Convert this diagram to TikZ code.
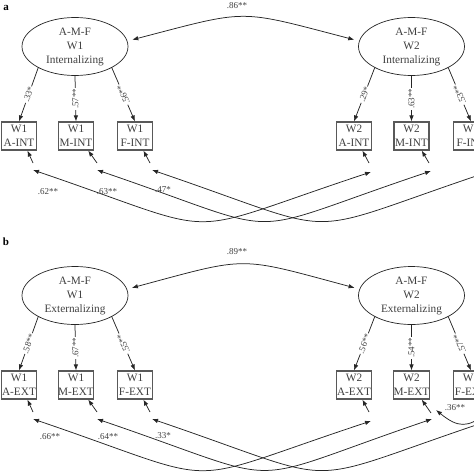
\documentclass[tikz,border=0pt]{standalone}
\usepackage{fontspec}
\setmainfont{Liberation Serif}
\usetikzlibrary{arrows.meta,shapes.geometric}
\begin{document}
\begin{tikzpicture}[x=1pt,y=-1pt,
  lat/.style={draw=black!85, ellipse, line width=0.7pt, minimum width=106pt, minimum height=58pt, inner sep=0pt, align=center, font=\fontsize{11.3}{14}\selectfont, text=black!75},
  obs/.style={draw=black!65, line width=1.1pt, rectangle, minimum width=35pt, minimum height=28pt, inner sep=0pt, align=center, font=\fontsize{11.3}{13.5}\selectfont, text=black!75},
  pth/.style={line width=0.75pt, draw=black!85, -{Latex[length=6pt,width=4.5pt]}},
  cov/.style={line width=0.75pt, draw=black!85, {Latex[length=6pt,width=4.5pt]}-{Latex[length=6pt,width=4.5pt]}},
  lab/.style={fill=white, inner sep=0.8pt, font=\fontsize{9}{10}\selectfont, text=black!75},
  coef/.style={font=\fontsize{9}{10}\selectfont, text=black!75, inner sep=0pt},
  pan/.style={font=\bfseries\fontsize{11}{12}\selectfont, inner sep=0pt}
]
\useasboundingbox (0,0) rectangle (474,474);
\clip (0,0) rectangle (474,474);

% ---------------- Panel a ----------------
\node[pan] (pa) at (6,8) {a};
\node[coef] (ta) at (237,6) {.86**};
\node[lat] (l1a) at (75,46.5) {A-M-F\\W1\\Internalizing};
\node[lat] (l2a) at (411.5,46.5) {A-M-F\\W2\\Internalizing};
\node[obs] (a1A) at (19,136) {W1\\A-INT};
\node[obs] (a1M) at (76,136) {W1\\M-INT};
\node[obs] (a1F) at (135,136) {W1\\F-INT};
\node[obs] (a2A) at (354,136) {W2\\A-INT};
\node[obs] (a2M) at (411.5,136) {W2\\M-INT};
\node[obs] (a2F) at (471,136) {W2\\F-INT};

\draw[cov, shorten <=5pt, shorten >=5pt] (l1a.6) .. controls +(123,-32) and +(-123,-32) .. (l2a.174);

\draw[pth] (l1a.210) -- node[lab,rotate=70]{.33*} (a1A.north);
\draw[pth] (l1a.270) -- node[lab,rotate=90]{.57**} (a1M.north);
\draw[pth] (l1a.330) -- node[lab,rotate=113]{.56**} (a1F.north);
\draw[pth] (l2a.210) -- node[lab,rotate=69]{.29*} (a2A.north);
\draw[pth] (l2a.270) -- node[lab,rotate=90]{.63**} (a2M.north);
\draw[pth] (l2a.330) -- node[lab,rotate=113]{.53**} (a2F.north);

\coordinate (e1Aa) at (33,163);
\coordinate (e1Ma) at (97,163);
\coordinate (e1Fa) at (150,163);
\coordinate (e2Aa) at (369,163);
\coordinate (e2Ma) at (429,163);
\coordinate (e2Fa) at (489,163);
\draw[pth] (e1Aa) -- (a1A.-60);
\draw[pth] (e1Ma) -- (a1M.-50);
\draw[pth] (e1Fa) -- (a1F.-60);
\draw[pth] (e2Aa) -- (a2A.-60);
\draw[pth] (e2Ma) -- (a2M.-55);
\draw[pth] (e2Fa) -- (a2F.-60);

\coordinate (k1Aa) at (33,170);
\coordinate (k1Ma) at (97,170);
\coordinate (k1Fa) at (152,170);
\coordinate (k2Aa) at (371,172);
\coordinate (k2Ma) at (431,171);
\coordinate (k2Fa) at (491,171);
\draw[cov] (k1Aa) .. controls +(200,68) and +(-200,66) .. (k2Aa);
\draw[cov] (k1Ma) .. controls +(200,68) and +(-200,67) .. (k2Ma);
\draw[cov] (k1Fa) .. controls +(200,68) and +(-200,67) .. (k2Fa);
\node[coef] (ca1) at (48,192) {.62**};
\node[coef] (ca2) at (107,192) {.63**};
\node[coef] (ca3) at (163,190) {.47*};

% ---------------- Panel b ----------------
\node[pan] (pb) at (6,242) {b};
\node[coef] (tb) at (237,252) {.89**};
\node[lat] (l1b) at (75,295.5) {A-M-F\\W1\\Externalizing};
\node[lat] (l2b) at (411.5,295.5) {A-M-F\\W2\\Externalizing};
\node[obs] (b1A) at (19,385) {W1\\A-EXT};
\node[obs] (b1M) at (76,385) {W1\\M-EXT};
\node[obs] (b1F) at (135,385) {W1\\F-EXT};
\node[obs] (b2A) at (354,385) {W2\\A-EXT};
\node[obs] (b2M) at (411.5,385) {W2\\M-EXT};
\node[obs] (b2F) at (471,385) {W2\\F-EXT};

\draw[cov, shorten <=5pt, shorten >=5pt] (l1b.7) .. controls +(123,-33) and +(-123,-33) .. (l2b.173);

\draw[pth] (l1b.210) -- node[lab,rotate=70]{.58**} (b1A.north);
\draw[pth] (l1b.270) -- node[lab,rotate=90]{.67**} (b1M.north);
\draw[pth] (l1b.330) -- node[lab,rotate=113]{.55**} (b1F.north);
\draw[pth] (l2b.210) -- node[lab,rotate=69]{.56**} (b2A.north);
\draw[pth] (l2b.270) -- node[lab,rotate=90]{.54**} (b2M.north);
\draw[pth] (l2b.330) -- node[lab,rotate=113]{.57**} (b2F.north);

\coordinate (e1Ab) at (33,412);
\coordinate (e1Mb) at (97,412);
\coordinate (e1Fb) at (150,412);
\coordinate (e2Ab) at (369,412);
\coordinate (e2Mb) at (431,413);
\coordinate (e2Fb) at (489,412);
\draw[pth] (e1Ab) -- (b1A.-60);
\draw[pth] (e1Mb) -- (b1M.-50);
\draw[pth] (e1Fb) -- (b1F.-60);
\draw[pth] (e2Ab) -- (b2A.-60);
\draw[pth] (e2Mb) -- (b2M.-55);
\draw[pth] (e2Fb) -- (b2F.-60);

\coordinate (k1Ab) at (33,419);
\coordinate (k1Mb) at (97,419);
\coordinate (k1Fb) at (152,419);
\coordinate (k2Ab) at (371,421);
\coordinate (k2Mb) at (432,419);
\coordinate (k2Fb) at (491,420);
\draw[cov] (k1Ab) .. controls +(200,68) and +(-200,66) .. (k2Ab);
\draw[cov] (k1Mb) .. controls +(200,68) and +(-200,68) .. (k2Mb);
\draw[cov] (k1Fb) .. controls +(200,68) and +(-200,67) .. (k2Fb);
\node[coef] (cb1) at (50,437) {.66**};
\node[coef] (cb2) at (108,437) {.64**};
\node[coef] (cb3) at (163,436) {.33*};

\coordinate (m2Mb) at (436,410);
\coordinate (m2Fb) at (490,410);
\draw[cov] (m2Mb) .. controls +(22,18) and +(-22,18) .. (m2Fb);
\node[coef] (cb4) at (455,408) {.36**};
\end{tikzpicture}
\end{document}
